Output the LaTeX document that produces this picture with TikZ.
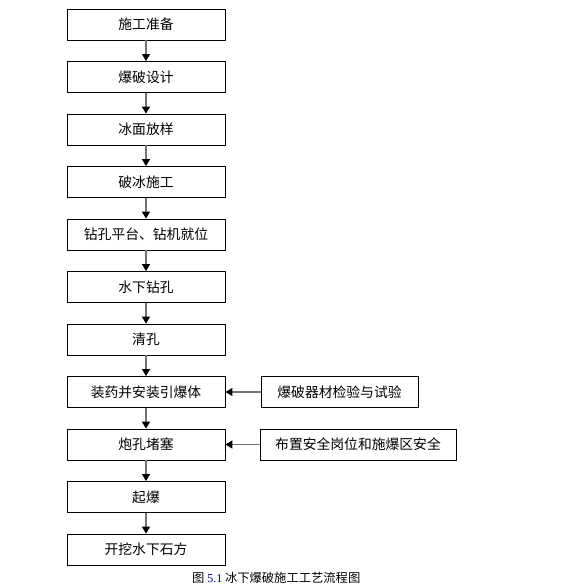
\documentclass[tikz,border=0pt]{standalone}
\usepackage{fontspec}
\newfontfamily\cjk{Noto Sans CJK SC}
\setmainfont{Liberation Serif}
\usetikzlibrary{arrows.meta,positioning}
\tikzset{
  stepbox/.style={draw, line width=0.8pt, minimum width=158pt, minimum height=31pt, inner sep=0pt, font=\cjk\fontsize{13.8}{16}\selectfont},
  sidebox/.style={stepbox, minimum width=157pt},
  flow/.style={draw=black!55, line width=1.3pt, -{Triangle[length=7pt,width=8pt,color=black]}}
}
\begin{document}
\begin{tikzpicture}[x=1pt,y=-1pt]
\useasboundingbox (0,0) rectangle (561,587);

% main column
\node[stepbox] (s1) at (146,24.5) {施工准备};
\node[stepbox] (s2) at (146,77) {爆破设计};
\node[stepbox] (s3) at (146,129.5) {冰面放样};
\node[stepbox] (s4) at (146,182) {破冰施工};
\node[stepbox] (s5) at (146,234.5) {钻孔平台、钻机就位};
\node[stepbox] (s6) at (146,287) {水下钻孔};
\node[stepbox] (s7) at (146,339.5) {清孔};
\node[stepbox] (s8) at (146,392) {装药并安装引爆体};
\node[stepbox] (s9) at (146,444.5) {炮孔堵塞};
\node[stepbox] (s10) at (146,497) {起爆};
\node[stepbox] (s11) at (146,549.5) {开挖水下石方};

\foreach \a/\b in {1/2,2/3,3/4,4/5,5/6,6/7,7/8,8/9,9/10,10/11}
    \draw[flow] (s\a.south) -- (s\b.north);

% side inputs
\node[sidebox] (m1) at (339.5,392) {爆破器材检验与试验};
\node[sidebox, minimum width=196pt] (m2) at (358,444.5) {布置安全岗位和施爆区安全};

\draw[flow] (m1.west) -- (s8.east);
\draw[flow] (m2.west) -- (s9.east);

% caption
\node[anchor=west, inner sep=0pt] (cap) at (192,578) {\cjk\fontsize{12.3}{14}\selectfont 图\ \textcolor{blue!60!black}{\rmfamily\fontsize{12}{14}\selectfont 5.1} 冰下爆破施工工艺流程图};

\end{tikzpicture}
\end{document}
